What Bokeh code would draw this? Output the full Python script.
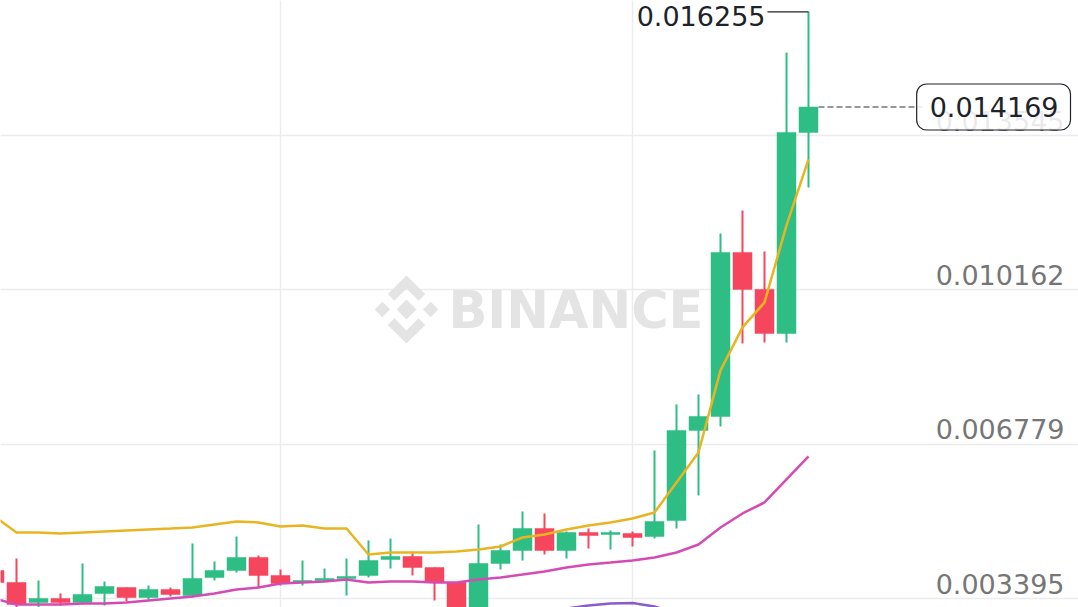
import math
from bokeh.plotting import figure
from bokeh.models import Range1d, Grid, FixedTicker, Label, ColumnDataSource
from bokeh.core.properties import value
from bokeh.embed import file_html
from bokeh.resources import INLINE

# ---------------- data ----------------
opens = [0.004015, 0.003752, 0.003314, 0.003402, 0.003314, 0.003511, 0.003643, 0.003423,
         0.003599, 0.003467, 0.003862, 0.004015, 0.004300, 0.003906, 0.003752, 0.003796,
         0.003840, 0.003906, 0.004256, 0.004322, 0.004081, 0.003752, 0.003094, 0.004169,
         0.004453, 0.004935, 0.004453, 0.004848, 0.004804, 0.004826, 0.004760, 0.005111,
         0.007083, 0.007390, 0.010983, 0.010173, 0.009208, 0.013613]
closes = [0.003752, 0.003270, 0.003402, 0.003314, 0.003489, 0.003664, 0.003423, 0.003599,
          0.003489, 0.003840, 0.004015, 0.004300, 0.003906, 0.003730, 0.003796, 0.003840,
          0.003884, 0.004234, 0.004322, 0.004081, 0.003752, 0.003029, 0.004169, 0.004453,
          0.004935, 0.004453, 0.004848, 0.004782, 0.004848, 0.004738, 0.005089, 0.007083,
          0.007390, 0.010983, 0.010173, 0.009208, 0.013613, 0.014169]
highs = [0.004103, 0.004278, 0.003796, 0.003511, 0.004169, 0.003774, 0.003643, 0.003686,
         0.003643, 0.004607, 0.004212, 0.004760, 0.004344, 0.004037, 0.004234, 0.004059,
         0.004278, 0.004673, 0.004716, 0.004431, 0.004081, 0.003752, 0.005023, 0.004585,
         0.005308, 0.005264, 0.004870, 0.004935, 0.004892, 0.004870, 0.006645, 0.007653,
         0.007872, 0.011400, 0.011904, 0.011005, 0.015366, 0.016255]
lows = [0.003664, 0.003204, 0.003204, 0.003248, 0.003270, 0.003248, 0.003336, 0.003380,
        0.003445, 0.003423, 0.003796, 0.003971, 0.003643, 0.003686, 0.003686, 0.003774,
        0.003467, 0.003862, 0.004059, 0.003906, 0.003358, 0.002919, 0.002963, 0.004037,
        0.004234, 0.004366, 0.004278, 0.004497, 0.004475, 0.004541, 0.004716, 0.004935,
        0.005659, 0.007171, 0.008989, 0.009011, 0.009011, 0.012408]
ma7 = [0.005198, 0.004848, 0.004848, 0.004826, 0.004848, 0.004870, 0.004892, 0.004914,
       0.004935, 0.004957, 0.005023, 0.005089, 0.005067, 0.004979, 0.005001, 0.004935,
       0.004935, 0.004366, 0.004410, 0.004410, 0.004410, 0.004431, 0.004475, 0.004541,
       0.004738, 0.004804, 0.004914, 0.005001, 0.005067, 0.005155, 0.005286, 0.005943,
       0.006601, 0.008398, 0.009340, 0.009888, 0.011575, 0.013021]
ma25 = [0.003402, 0.003270, 0.003270, 0.003270, 0.003292, 0.003292, 0.003314, 0.003358,
        0.003402, 0.003445, 0.003511, 0.003599, 0.003643, 0.003730, 0.003752, 0.003774,
        0.003818, 0.003752, 0.003774, 0.003774, 0.003752, 0.003752, 0.003818, 0.003862,
        0.003927, 0.003993, 0.004081, 0.004147, 0.004190, 0.004234, 0.004300, 0.004410,
        0.004585, 0.004957, 0.005264, 0.005505, 0.006009, 0.006513]
ma99_index = [25, 26, 27, 28, 29, 30, 31]
ma99 = [0.003100, 0.003182, 0.003248, 0.003292, 0.003303, 0.003226, 0.003072]

y_ticks = [0.003395, 0.006779, 0.010162, 0.013545]
y_tick_labels = ["0.003395", "0.006779", "0.010162", "0.013545"]
day_ticks = [13, 29]
high_label = "0.016255"
last_label = "0.014169"
watermark = "BINANCE"

# ---------------- layout helpers ----------------
W, H = 1078, 607
CANDLE_PX = 22.0
K = (y_ticks[-1] - y_ticks[0]) / 463.3          # price per pixel


def px_x(px):
    return (px + 6.0) / CANDLE_PX


def px_y(py):
    return y_ticks[0] + (598.3 - py) * K


GREEN = "#2EBD85"
RED = "#F6465D"
FONT = "DejaVu Sans"
INK = "#1E2329"

p = figure(width=W, height=H, output_backend="svg", toolbar_location=None,
           x_axis_type=None, y_axis_type=None,
           x_range=Range1d(px_x(0), px_x(W)), y_range=Range1d(px_y(H), px_y(0)),
           min_border=0, background_fill_color="white", border_fill_color="white")
p.outline_line_color = None

p.add_layout(Grid(dimension=1, ticker=FixedTicker(ticks=y_ticks),
                  grid_line_color="#ECECEC", grid_line_width=1.5))
p.add_layout(Grid(dimension=0, ticker=FixedTicker(ticks=day_ticks),
                  grid_line_color="#ECECEC", grid_line_width=1.5))

# ---------------- watermark ----------------
cx, cy, sc = 406, 309, 1.1
WM = "#E4E4E4"
logo_shapes = [
    [(0, -9), (9, 0), (0, 9), (-9, 0)],
    [(-22, -7), (-15, 0), (-22, 7), (-29, 0)],
    [(22, -7), (29, 0), (22, 7), (15, 0)],
    [(-17, -14), (0, -31), (17, -14), (11, -8), (0, -19), (-11, -8)],
    [(-17, 14), (0, 31), (17, 14), (11, 8), (0, 19), (-11, 8)],
]
p.patches(xs=[[px_x(cx + sc * dx) for dx, dy in s] for s in logo_shapes],
          ys=[[px_y(cy + sc * dy) for dx, dy in s] for s in logo_shapes],
          fill_color=WM, line_color=None)
p.text(x=[px_x(448)], y=[px_y(310)], text=[watermark], text_color=WM,
       text_font=value(FONT), text_font_size="51px", text_font_style="bold",
       text_align="left", text_baseline="middle")

# ---------------- candles ----------------
idx = list(range(len(opens)))
colors = [GREEN if c >= o else RED for o, c in zip(opens, closes)]
src = ColumnDataSource(dict(
    x=idx, top=[max(o, c) for o, c in zip(opens, closes)],
    bottom=[min(o, c) for o, c in zip(opens, closes)],
    high=highs, low=lows, color=colors))
p.segment(x0="x", y0="low", x1="x", y1="high", line_color="color", line_width=2, source=src)
p.vbar(x="x", width=19 / CANDLE_PX, top="top", bottom="bottom", fill_color="color",
       line_color="color", line_width=0.5, source=src)

# ---------------- moving averages ----------------
p.line(idx, ma25, line_color="#D54BB4", line_width=2.5)
p.line(ma99_index, ma99, line_color="#8A5CC9", line_width=2.5)
p.line(idx, ma7, line_color="#E8B521", line_width=2.5)

# ---------------- y labels ----------------
p.text(x=[px_x(1064)] * len(y_ticks), y=[t + 15 * K for t in y_ticks], text=y_tick_labels,
       text_color="#767676", text_font=value(FONT), text_font_size="27px",
       text_align="right", text_baseline="middle")

# ---------------- high annotation ----------------
last = idx[-1]
p.segment(x0=[last - 41 / CANDLE_PX], y0=[highs[-1]], x1=[last], y1=[highs[-1]],
          line_color=INK, line_width=1.2)
p.text(x=[last - 43 / CANDLE_PX], y=[highs[-1] - 4 * K], text=[high_label], text_color=INK,
       text_font=value(FONT), text_font_size="27px", text_align="right",
       text_baseline="middle")

# ---------------- last price ----------------
p.segment(x0=[last + 10 / CANDLE_PX], y0=[closes[-1]], x1=[px_x(922)], y1=[closes[-1]],
          line_color="#333333", line_width=1.2, line_dash="6 3")
p.add_layout(Label(x=px_x(1070), y=closes[-1], text=last_label,
                   text_font=FONT, text_font_size="27px", text_color=INK,
                   text_align="right", text_baseline="middle",
                   background_fill_color="white", background_fill_alpha=0.85,
                   border_line_color=INK, border_line_width=1.2,
                   padding=(13, 12, 13, 13), border_radius=10))

open("out.html", "w").write(file_html(p, INLINE))
